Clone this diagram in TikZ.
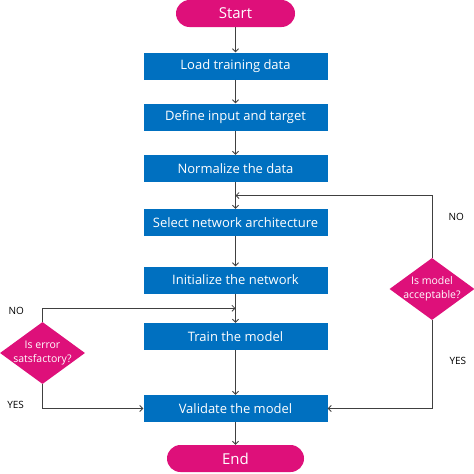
\documentclass[tikz,border=0pt]{standalone}
\usepackage{fontspec}
\setmainfont{Open Sans}
\usetikzlibrary{positioning,shapes.geometric,arrows.meta,calc}
\definecolor{boxblue}{RGB}{0,112,192}
\definecolor{termpink}{RGB}{222,16,122}
\definecolor{linegray}{RGB}{64,64,64}

\begin{document}
\begin{tikzpicture}[x=1pt,y=1pt,on grid,
  >={Straight Barb[length=3pt,width=6pt]},
  term/.style={rectangle,rounded corners=13.5pt,fill=termpink,text=white,minimum height=27pt,font=\fontsize{15}{18}\selectfont},
  proc/.style={rectangle,fill=boxblue,text=white,minimum width=184pt,minimum height=27pt,font=\fontsize{13}{15}\selectfont},
  decision/.style={diamond,fill=termpink,text=white,aspect=1.4,minimum width=85pt,minimum height=62pt,inner sep=-4pt,align=center,font=\fontsize{10.5}{14}\selectfont},
  flow/.style={draw=linegray,line width=0.8pt,->},
  answer/.style={font=\fontsize{10}{12}\selectfont}]
		\useasboundingbox (0,0) rectangle (474,-474);
		\node[term,minimum width=119pt] (start) at (235.5,-13.5) {Start};
		\node[proc] (load) [below=52.5pt of start] {Load training data};
		\node[proc] (define) [below=51pt of load] {Define input and target};
		\node[proc] (norm) [below=51.5pt of define] {Normalize the data};
		\node[proc] (select) [below=54pt of norm] {Select network architecture};
		\node[proc] (init) [below=57.5pt of select] {Initialize the network};
		\node[proc] (train) [below=56.5pt of init] {Train the model};
		\node[proc] (valid) [below=72pt of train] {Validate the model};
		\node[term,minimum width=137pt] (end) [below=50pt of valid] {End};
		\node[decision] (err) at (42.5,-353) {Is error\\satsfactory?};
		\node[decision] (acc) at (432,-289) {Is model\\acceptable?};
		\coordinate (backtrain) at ($(init.south)!0.5!(train.north)$);
		\coordinate (backselect) at ($(norm.south)!0.5!(select.north)$);
		\path[flow]
		(start) edge (load)
		(load) edge (define)
		(define) edge (norm)
		(norm) edge (select)
		(select) edge (init)
		(init) edge (train)
		(train) edge (valid)
		(valid) edge (end);
		\draw[flow] (err.north) |- (backtrain);
		\draw[flow] (err.south) |- (valid.west);
		\draw[flow] (acc.north) |- (backselect);
		\draw[flow] (acc.south) |- (valid.east);
		\node[answer] (errno) [above left=4pt and 15pt of err.north] {NO};
		\node[answer] (erryes) [below left=14pt and 15pt of err.south] {YES};
		\node[answer] (accno) [above right=34pt and 13pt of acc.north] {NO};
		\node[answer] (accyes) [below right=34pt and 14pt of acc.south] {YES};
		\end{tikzpicture}
\end{document}
